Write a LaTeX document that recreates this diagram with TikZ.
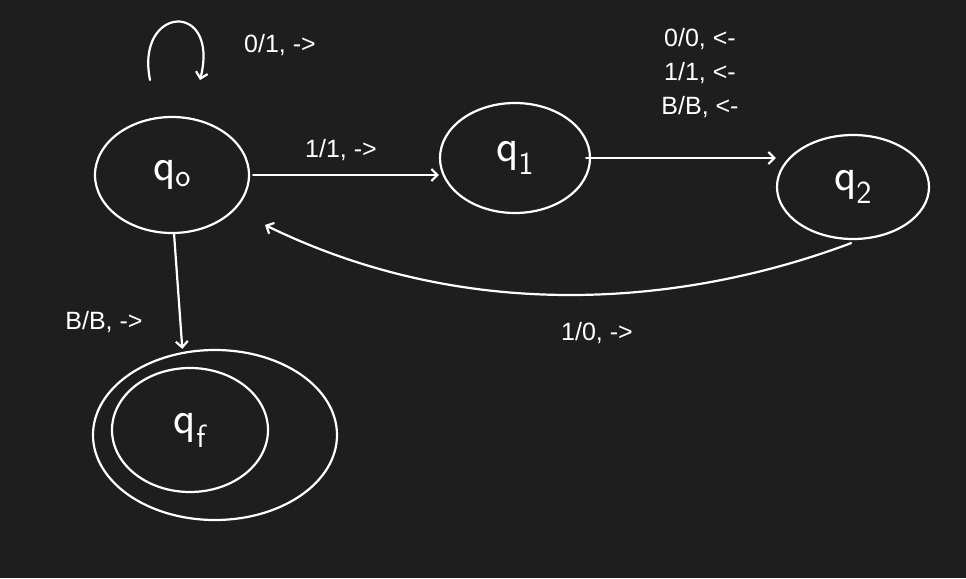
\documentclass[tikz,border=0pt]{standalone}
\usepackage{fontspec}
\setmainfont{Liberation Sans}
\usetikzlibrary{shapes.geometric,arrows.meta}
\definecolor{bg}{HTML}{1E1E1E}
\begin{document}
\begin{tikzpicture}[x=1pt,y=-1pt,
  st/.style={draw=white,line width=2.2pt,ellipse,inner sep=0pt},
  lbl/.style={text=white,font=\fontsize{25}{34}\selectfont,align=center},
  ed/.style={draw=white,line width=2.2pt,line cap=round,-{Straight Barb[length=6pt,width=12pt]}},
  qt/.style={text=white,font=\fontsize{46}{46}\selectfont}]
\fill[bg] (0,0) rectangle (966,578);
\useasboundingbox (0,0) rectangle (966,578);
\node[st,minimum width=154pt,minimum height=116pt] (q0) at (172,175) {};
\node[st,minimum width=150pt,minimum height=110pt] (q1) at (515,158) {};
\node[st,minimum width=152pt,minimum height=104pt] (q2) at (853,187) {};
\node[st,minimum width=244pt,minimum height=170pt] (qfo) at (215,435) {};
\node[st,minimum width=156pt,minimum height=124pt] (qf) at (190,430) {};
\node[qt] at (q0) {$\mathsf{q}_{\mathsf{o}}$};
\node[qt] at (q1) {$\mathsf{q}_{\mathsf{1}}$};
\node[qt] at (q2) {$\mathsf{q}_{\mathsf{2}}$};
\node[qt] at (qf) {$\mathsf{q}_{\mathsf{f}}$};
\coordinate (ls) at (150,80);
\coordinate (le) at (200,80);
\draw[ed] (ls) .. controls (135,5) and (220,0) .. (le);
\node[lbl] (l1) at (280,45) {0/1, ->};
\draw[ed] (q0.east) ++(3,0) coordinate (a) -- (q1.west|-a);
\node[lbl] (l2) at (341,150) {1/1, ->};
\draw[ed] (q1.east) ++(-5,0) coordinate (b) -- (q2.west|-b);
\node[lbl] (l3) at (700,73) {0/0, <-\\1/1, <-\\B/B, <-};
\draw[ed] (q2.-92) ++(0,3) .. controls (700,300) and (480,330) .. (265,225);
\node[lbl] (l4) at (597,333) {1/0, ->};
\draw[ed] (q0.-88) -- (qfo.north-|q0.-80);
\node[lbl] (l5) at (104,322) {B/B, ->};
\end{tikzpicture}
\end{document}
